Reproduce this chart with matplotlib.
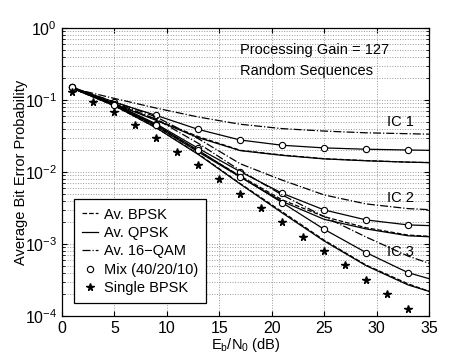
import numpy as np
import matplotlib
matplotlib.use("Agg")
from matplotlib import pyplot as plt
from matplotlib.lines import Line2D

plt.rcParams['font.family'] = ['Liberation Sans', 'DejaVu Sans']
plt.rcParams['mathtext.fontset'] = 'custom'
plt.rcParams['mathtext.rm'] = 'Liberation Sans'
plt.rcParams['mathtext.it'] = 'Liberation Sans:italic'
plt.rcParams['mathtext.bf'] = 'Liberation Sans:bold'

# Eb/N0 (dB) where the curves were read
snr = [1, 5, 9, 13, 17, 21, 25, 29, 33, 35]

# IC 1
ic1_bpsk = [0.145, 0.089, 0.053, 0.031, 0.020, 0.0172, 0.0153, 0.0144, 0.0137, 0.0135]
ic1_qpsk = [0.145, 0.088, 0.052, 0.030, 0.0198, 0.017, 0.0152, 0.0143, 0.0137, 0.0135]
ic1_qam16 = [0.145, 0.105, 0.077, 0.058, 0.046, 0.040, 0.037, 0.035, 0.034, 0.0335]
ic1_mix = [0.15, 0.093, 0.061, 0.039, 0.0278, 0.0235, 0.0216, 0.0207, 0.0202, 0.020]

# IC 2
ic2_bpsk = [0.145, 0.085, 0.044, 0.0195, 0.0088, 0.0041, 0.0024, 0.00168, 0.00133, 0.00128]
ic2_qpsk = [0.145, 0.085, 0.043, 0.019, 0.0085, 0.0039, 0.0022, 0.00162, 0.0013, 0.00126]
ic2_qam16 = [0.145, 0.095, 0.058, 0.029, 0.013, 0.0077, 0.0048, 0.0036, 0.0031, 0.0030]
ic2_mix = [0.15, 0.088, 0.0464, 0.0213, 0.0101, 0.00506, 0.00297, 0.00216, 0.00184, 0.0018]

# IC 3
ic3_bpsk = [0.145, 0.083, 0.041, 0.0178, 0.0069, 0.0028, 0.00113, 0.00051, 0.00028, 0.00022]
ic3_qpsk = [0.145, 0.083, 0.041, 0.0175, 0.0068, 0.0027, 0.0011, 0.0005, 0.00027, 0.00022]
ic3_qam16 = [0.145, 0.092, 0.054, 0.025, 0.0105, 0.0048, 0.0024, 0.00125, 0.00068, 0.00054]
ic3_mix = [0.15, 0.086, 0.045, 0.020, 0.0086, 0.00375, 0.0016, 0.00076, 0.0004, 0.00033]

# single user BPSK
single_snr = [1, 3, 5, 7, 9, 11, 13, 15, 17, 19, 21, 23, 25, 27, 29, 31, 33]
single_bpsk = [0.130, 0.095, 0.067, 0.045, 0.030, 0.0191, 0.0125, 0.0080, 0.0049,
               0.00316, 0.00202, 0.00126, 0.0008, 0.000506, 0.000316, 0.0002, 0.000125]

fig = plt.figure(figsize=(4.74, 3.55), dpi=100)
ax = fig.add_axes([0.1308, 0.1099, 0.7742, 0.8113])

lw = 0.9
for bpsk, qpsk, qam, mix in [(ic1_bpsk, ic1_qpsk, ic1_qam16, ic1_mix),
                             (ic2_bpsk, ic2_qpsk, ic2_qam16, ic2_mix),
                             (ic3_bpsk, ic3_qpsk, ic3_qam16, ic3_mix)]:
    ax.semilogy(snr, bpsk, 'k--', lw=lw)
    ax.semilogy(snr, qpsk, 'k-', lw=lw)
    ax.semilogy(snr, qam, 'k-.', lw=lw)
    ax.semilogy(snr, mix, 'k-', lw=lw, marker='o', mfc='white', ms=4.5, mew=0.8,
                markevery=list(range(len(snr) - 1)))
ax.semilogy(single_snr, single_bpsk, 'k*', ms=5.5, ls='none')

ax.set_xlim(0, 35)
ax.set_ylim(1e-4, 1)
ax.set_xticks([0, 5, 10, 15, 20, 25, 30, 35])
ax.grid(True, which='major', ls=':', color='0.6', lw=0.7)
ax.grid(True, which='minor', axis='y', ls=':', color='0.6', lw=0.7)
ax.tick_params(which='both', direction='in', top=True, right=True, labelsize=11.5)
ax.tick_params(axis='x', pad=3.5)
for s in ax.spines.values():
    s.set_linewidth(0.9)

ax.set_xlabel('E$_{\\rm b}$/N$_{\\rm 0}$ (dB)', fontsize=10.5, labelpad=0)
ax.set_ylabel('Average Bit Error Probability', fontsize=10.5, labelpad=-2)

ax.text(17, 0.49, 'Processing Gain = 127', fontsize=10.5, va='center')
ax.text(17, 0.255, 'Random Sequences', fontsize=10.5, va='center')
ax.text(31, 0.05, 'IC 1', fontsize=10.5, va='center')
ax.text(31, 0.0044, 'IC 2', fontsize=10.5, va='center')
ax.text(31, 0.00078, 'IC 3', fontsize=10.5, va='center')

handles = [Line2D([], [], color='k', ls='--', lw=lw),
           Line2D([], [], color='k', ls='-', lw=lw),
           Line2D([], [], color='k', ls='-.', lw=lw),
           Line2D([], [], color='k', ls='none', marker='o', mfc='white', ms=4.5, mew=0.8),
           Line2D([], [], color='k', ls='none', marker='*', ms=5.5)]
labels = ['Av. BPSK', 'Av. QPSK', 'Av. 16\u2212QAM', 'Mix (40/20/10)', 'Single BPSK']
leg = ax.legend(handles, labels, loc='lower left', bbox_to_anchor=(0.033, 0.045),
                fontsize=10.5, handlelength=1.1, handletextpad=0.4, labelspacing=0.3,
                borderpad=0.55, fancybox=False, framealpha=1, edgecolor='k',
                borderaxespad=0)
leg.get_frame().set_linewidth(0.9)

fig.savefig('out.png', dpi=100)
